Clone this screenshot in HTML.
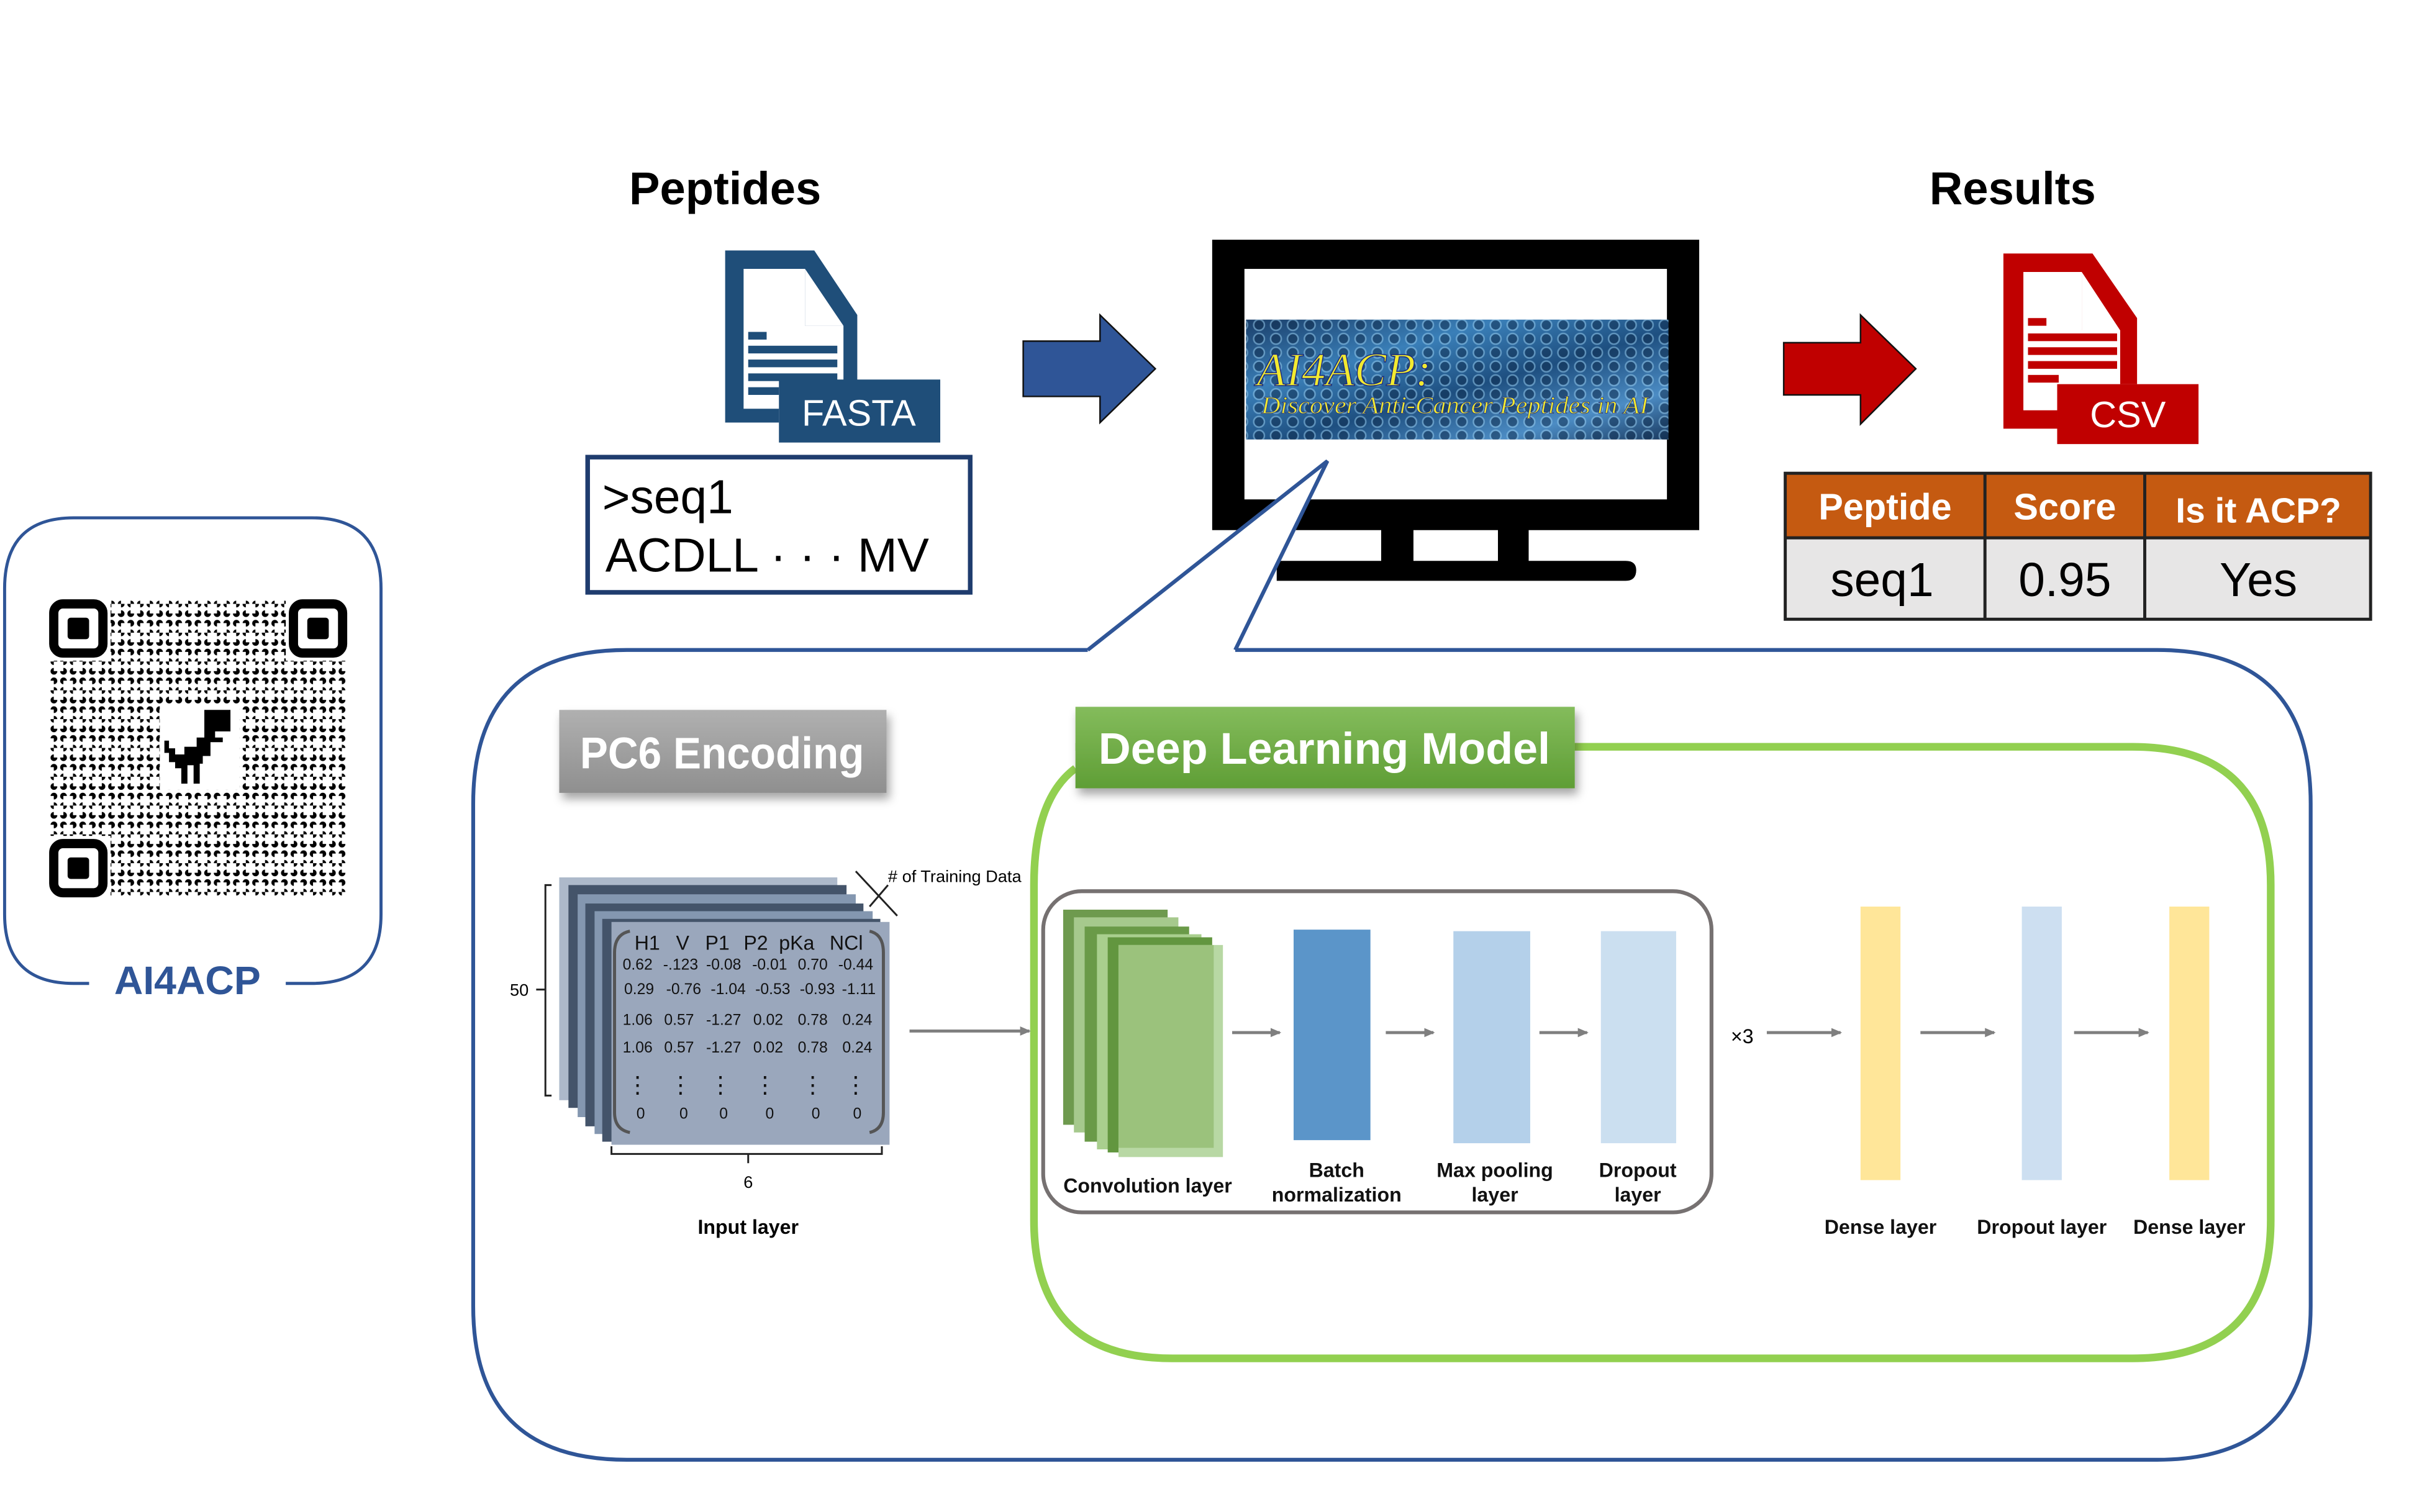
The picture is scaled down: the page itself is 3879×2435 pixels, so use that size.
<!DOCTYPE html>
<html><head><meta charset="utf-8">
<style>
html,body{margin:0;padding:0;background:#fff;}
svg{display:block;}
.s{font-family:"Liberation Sans",sans-serif;}
.c{font-family:"Liberation Sans Narrow","Liberation Sans",sans-serif;}
.sf{font-family:"Liberation Serif",serif;font-style:italic;}
</style></head>
<body>
<svg width="3879" height="2435" viewBox="0 0 1568 984" preserveAspectRatio="none" xmlns="http://www.w3.org/2000/svg" class="s">
<defs>
<pattern id="qr" x="32" y="390" width="6.25" height="6.25" patternUnits="userSpaceOnUse">
<circle cx="3.1" cy="3.1" r="2.2" fill="#000"/>
</pattern>
<pattern id="qr2" x="35" y="393" width="12.5" height="18.75" patternUnits="userSpaceOnUse">
<rect width="6.25" height="6.25" fill="#fff"/><rect x="6.25" y="12.5" width="6.25" height="6.25" fill="#fff"/>
</pattern>
<linearGradient id="gray" x1="0" y1="0" x2="0" y2="1"><stop offset="0" stop-color="#b0b0b0"/><stop offset="1" stop-color="#8f8f8f"/></linearGradient>
<linearGradient id="green" x1="0" y1="0" x2="0" y2="1"><stop offset="0" stop-color="#84bc5c"/><stop offset="1" stop-color="#5f9e35"/></linearGradient>
<linearGradient id="ban" x1="0" y1="0" x2="1" y2="1"><stop offset="0" stop-color="#1b3f6a"/><stop offset="0.3" stop-color="#3a7fb8"/><stop offset="0.55" stop-color="#1e4f80"/><stop offset="0.8" stop-color="#4c8cc4"/><stop offset="1" stop-color="#1a3a60"/></linearGradient>
<pattern id="cells" width="11" height="9" patternUnits="userSpaceOnUse"><circle cx="5.5" cy="4.5" r="3.5" fill="#0e2a4a" stroke="#9cd0f0" stroke-width="1" opacity="0.5"/></pattern>
<filter id="sh" x="-10%" y="-10%" width="130%" height="140%"><feDropShadow dx="2" dy="4" stdDeviation="3" flood-opacity="0.35"/></filter>
<marker id="ar" markerWidth="8" markerHeight="8" refX="6" refY="3" orient="auto" markerUnits="userSpaceOnUse"><path d="M0,0 L7,3 L0,6 z" fill="#7f7f7f"/></marker>
</defs>

<text x="472" y="133" font-size="30" font-weight="bold" text-anchor="middle">Peptides</text>
<text x="1310" y="133" font-size="30" font-weight="bold" text-anchor="middle">Results</text>

<!-- FASTA icon -->
<path d="M472,163 H530 L558,205 V250 H549 V212 H524 V175 H484 V266 H507 V275 H472 Z" fill="#1f4e79"/>
<path d="M524,175 V212 H549 Z" fill="#fff"/>
<rect x="487" y="216" width="12" height="5" fill="#1f4e79"/>
<rect x="487" y="225" width="58" height="5" fill="#1f4e79"/>
<rect x="487" y="234" width="58" height="5" fill="#1f4e79"/>
<rect x="487" y="243" width="58" height="5" fill="#1f4e79"/>
<rect x="487" y="252" width="20" height="5" fill="#1f4e79"/>
<rect x="507" y="247" width="105" height="41" fill="#1f4e79"/>
<text x="559" y="277" font-size="24" fill="#fff" text-anchor="middle">FASTA</text>

<rect x="382.5" y="297.5" width="249" height="88" fill="#fff" stroke="#1f3c6e" stroke-width="3"/>
<text x="392" y="334" font-size="31">&gt;seq1</text>
<text x="394" y="372" font-size="31">ACDLL · · · MV</text>

<path d="M666,222 H716 V205 L752,240 L716,275 V258 H666 Z" fill="#2f5597" stroke="#111" stroke-width="1"/>

<!-- monitor -->
<rect x="789" y="156" width="317" height="189" fill="#000"/>
<rect x="810" y="175" width="275" height="150" fill="#fff"/>
<rect x="899" y="344" width="21" height="22" fill="#000"/>
<rect x="975" y="344" width="20" height="22" fill="#000"/>
<path d="M831,365 H1058 Q1065,365 1065,371 Q1065,378 1058,378 H831 Z" fill="#000"/>
<rect x="811" y="208" width="275" height="78" fill="url(#ban)"/>
<rect x="811" y="208" width="275" height="78" fill="url(#cells)"/>
<text x="818" y="251" class="sf" font-size="31" fill="#f2ea30" stroke="#1a2a80" stroke-width="0.6">AI4ACP:</text>
<text x="821" y="269" class="sf" font-size="16" fill="#f2ea30" stroke="#1a2a80" stroke-width="0.3" textLength="252" lengthAdjust="spacingAndGlyphs">Discover Anti-Cancer Peptides in AI</text>

<path d="M1161,223 H1211 V205 L1247,240 L1211,276 V257 H1161 Z" fill="#c00000" stroke="#111" stroke-width="1"/>

<!-- CSV icon -->
<path d="M1304,165 H1362 L1391,207 V250 H1380 V215 H1355 V177 H1317 V267 H1339 V279 H1304 Z" fill="#c00000"/>
<path d="M1355,177 V215 H1380 Z" fill="#fff"/>
<rect x="1320" y="207" width="12" height="5" fill="#c00000"/>
<rect x="1320" y="217" width="58" height="5" fill="#c00000"/>
<rect x="1320" y="226" width="58" height="5" fill="#c00000"/>
<rect x="1320" y="235" width="58" height="5" fill="#c00000"/>
<rect x="1320" y="244" width="20" height="5" fill="#c00000"/>
<rect x="1339" y="250" width="92" height="39" fill="#c00000"/>
<text x="1385" y="278" font-size="24" fill="#fff" text-anchor="middle">CSV</text>

<!-- results table -->
<rect x="1162" y="308" width="381" height="42" fill="#c55a11"/>
<rect x="1162" y="350" width="381" height="53" fill="#e7e6e6"/>
<rect x="1162" y="308" width="381" height="95" fill="none" stroke="#222" stroke-width="2"/>
<line x1="1162" y1="350" x2="1543" y2="350" stroke="#222" stroke-width="2"/>
<line x1="1292" y1="308" x2="1292" y2="403" stroke="#222" stroke-width="2"/>
<line x1="1396" y1="308" x2="1396" y2="403" stroke="#222" stroke-width="2"/>
<text x="1227" y="338" font-size="24" font-weight="bold" fill="#fff" text-anchor="middle">Peptide</text>
<text x="1344" y="338" font-size="24" font-weight="bold" fill="#fff" text-anchor="middle">Score</text>
<text x="1470" y="340" font-size="23" font-weight="bold" fill="#fff" text-anchor="middle">Is it ACP?</text>
<text x="1225" y="388" font-size="31" text-anchor="middle">seq1</text>
<text x="1344" y="388" font-size="31" text-anchor="middle">0.95</text>
<text x="1470" y="388" font-size="31" text-anchor="middle">Yes</text>

<!-- QR panel -->
<path d="M58,640 H48 Q3,640 3,595 V383 Q3,337 48,337 H203 Q248,337 248,383 V595 Q248,640 203,640 H186" fill="none" stroke="#2f5597" stroke-width="2"/>
<text x="122" y="647" font-size="26" font-weight="bold" fill="#2f5597" text-anchor="middle">AI4ACP</text>
<rect x="32" y="390" width="194" height="194" fill="url(#qr)"/>
<rect x="32" y="390" width="194" height="194" fill="url(#qr2)"/>
<g fill="#fff"><rect x="30" y="388" width="42" height="42"/><rect x="186" y="388" width="42" height="42"/><rect x="30" y="544" width="42" height="42"/><rect x="104" y="458" width="52" height="56"/></g>
<g fill="none" stroke="#000" stroke-width="6"><rect x="35" y="393" width="32" height="32" rx="6"/><rect x="191" y="393" width="32" height="32" rx="6"/><rect x="35" y="549" width="32" height="32" rx="6"/></g>
<g fill="#000"><rect x="44" y="402" width="14" height="14" rx="2"/><rect x="200" y="402" width="14" height="14" rx="2"/><rect x="44" y="558" width="14" height="14" rx="2"/></g>
<path d="M133,462 H150 V476 H140 V480 H145 V483 H137 V492 H132 V497 H130 V510 H126 V498 H122 V510 H118 V500 H114 V496 H110 V490 H107 V482 H110 V487 H114 V491 H120 V486 H128 V480 H133 Z" fill="#000"/>

<!-- big blue rounded box with callout -->
<path d="M708,423 H408 Q308,423 308,523 V850 Q308,950 408,950 H1404 Q1504,950 1504,850 V523 Q1504,423 1404,423 H804" fill="none" stroke="#2f5597" stroke-width="2.5"/>
<path d="M708,423 L864,300 L804,423" fill="#fff" stroke="#2f5597" stroke-width="2.5"/>

<path d="M700,486 H1388 Q1478,486 1478,576 V794 Q1478,884 1388,884 H763 Q673,884 673,794 V576 Q673,520 700,500" fill="none" stroke="#92d050" stroke-width="5"/>

<rect x="364" y="462" width="213" height="54" fill="url(#gray)" filter="url(#sh)"/>
<text x="470" y="500" class="c" font-size="29" font-weight="bold" fill="#fff" text-anchor="middle" textLength="185" lengthAdjust="spacingAndGlyphs">PC6 Encoding</text>
<rect x="700" y="460" width="325" height="53" fill="url(#green)" filter="url(#sh)"/>
<text x="862" y="497" class="c" font-size="29" font-weight="bold" fill="#fff" text-anchor="middle" textLength="294" lengthAdjust="spacingAndGlyphs">Deep Learning Model</text>

<!-- input layer stack -->
<rect x="364" y="571" width="181" height="145" fill="#adb9ca"/>
<rect x="370" y="576" width="181" height="145" fill="#44546a"/>
<rect x="376" y="582" width="181" height="145" fill="#8497b0"/>
<rect x="381" y="588" width="181" height="145" fill="#44546a"/>
<rect x="387" y="593" width="181" height="145" fill="#8497b0"/>
<rect x="392" y="598" width="181" height="145" fill="#44546a"/>
<rect x="398" y="600" width="181" height="145" fill="#9aa7bc"/>
<path d="M410,606 Q400,608 400,620 V724 Q400,735 410,737" fill="none" stroke="#555" stroke-width="2"/>
<path d="M566,606 Q575,608 575,620 V724 Q575,735 566,737" fill="none" stroke="#555" stroke-width="2"/>
<g class="c" font-size="13" fill="#111">
<text x="413" y="618">H1</text><text x="440" y="618">V</text><text x="459" y="618">P1</text><text x="484" y="618">P2</text><text x="507" y="618">pKa</text><text x="540" y="618">NCl</text>
</g>
<g class="c" font-size="10" fill="#111" text-anchor="middle">
<text x="415" y="631">0.62</text><text x="443" y="631">-.123</text><text x="471" y="631">-0.08</text><text x="501" y="631">-0.01</text><text x="529" y="631">0.70</text><text x="557" y="631">-0.44</text>
<text x="416" y="647">0.29</text><text x="445" y="647">-0.76</text><text x="474" y="647">-1.04</text><text x="503" y="647">-0.53</text><text x="532" y="647">-0.93</text><text x="559" y="647">-1.11</text>
<text x="415" y="667">1.06</text><text x="442" y="667">0.57</text><text x="471" y="667">-1.27</text><text x="500" y="667">0.02</text><text x="529" y="667">0.78</text><text x="558" y="667">0.24</text>
<text x="415" y="685">1.06</text><text x="442" y="685">0.57</text><text x="471" y="685">-1.27</text><text x="500" y="685">0.02</text><text x="529" y="685">0.78</text><text x="558" y="685">0.24</text>
<text x="415" y="711" font-size="15">⋮</text><text x="443" y="711" font-size="15">⋮</text><text x="469" y="711" font-size="15">⋮</text><text x="498" y="711" font-size="15">⋮</text><text x="529" y="711" font-size="15">⋮</text><text x="557" y="711" font-size="15">⋮</text>
<text x="417" y="728">0</text><text x="445" y="728">0</text><text x="471" y="728">0</text><text x="501" y="728">0</text><text x="531" y="728">0</text><text x="558" y="728">0</text>
</g>
<path d="M359,576 H355 V713 H359 M355,644 H349" fill="none" stroke="#222" stroke-width="1.2"/>
<text x="338" y="648" class="c" font-size="11" text-anchor="middle">50</text>
<path d="M398,746 V751 H574 V746 M487,751 V757" fill="none" stroke="#222" stroke-width="1.2"/>
<text x="487" y="773" class="c" font-size="11" text-anchor="middle">6</text>
<text x="487" y="803" class="c" font-size="13" font-weight="bold" text-anchor="middle">Input layer</text>
<path d="M557,567 L584,596 M566,590 L578,576" stroke="#222" stroke-width="1.2"/>
<text x="578" y="574" class="c" font-size="11">#  of Training Data</text>

<line x1="592" y1="671" x2="670" y2="671" stroke="#7f7f7f" stroke-width="2" marker-end="url(#ar)"/>

<rect x="679" y="580" width="435" height="209" rx="25" fill="none" stroke="#767171" stroke-width="2.5"/>
<rect x="692" y="592" width="68" height="140" fill="#6e9a4e"/>
<rect x="699" y="597" width="68" height="140" fill="#a6c98d"/>
<rect x="706" y="603" width="68" height="140" fill="#6a9a48"/>
<rect x="714" y="608" width="68" height="140" fill="#a9cf8e"/>
<rect x="721" y="610" width="68" height="140" fill="#62963f"/>
<rect x="728" y="615" width="68" height="138" fill="#b8d8a4"/>
<rect x="728" y="615" width="62" height="132" fill="#9bc27c"/>
<rect x="842" y="605" width="50" height="137" fill="#5b95c9"/>
<rect x="946" y="606" width="50" height="138" fill="#b4d0ea"/>
<rect x="1042" y="606" width="49" height="138" fill="#cbdff0"/>
<g stroke="#7f7f7f" stroke-width="2" marker-end="url(#ar)">
<line x1="802" y1="672" x2="833" y2="672"/><line x1="902" y1="672" x2="933" y2="672"/><line x1="1002" y1="672" x2="1033" y2="672"/>
<line x1="1150" y1="672" x2="1198" y2="672"/><line x1="1250" y1="672" x2="1298" y2="672"/><line x1="1350" y1="672" x2="1398" y2="672"/>
</g>
<g class="c" font-size="13" font-weight="bold" text-anchor="middle" fill="#111">
<text x="747" y="776">Convolution layer</text>
<text x="870" y="766">Batch</text><text x="870" y="782">normalization</text>
<text x="973" y="766">Max pooling</text><text x="973" y="782">layer</text>
<text x="1066" y="766">Dropout</text><text x="1066" y="782">layer</text>
<text x="1224" y="803">Dense layer</text><text x="1329" y="803">Dropout layer</text><text x="1425" y="803">Dense layer</text>
</g>
<text x="1134" y="679" class="c" font-size="13" text-anchor="middle">×3</text>
<rect x="1211" y="590" width="26" height="178" fill="#ffe699"/>
<rect x="1316" y="590" width="26" height="178" fill="#cddff1"/>
<rect x="1412" y="590" width="26" height="178" fill="#ffe699"/>
</svg>
</body></html>
